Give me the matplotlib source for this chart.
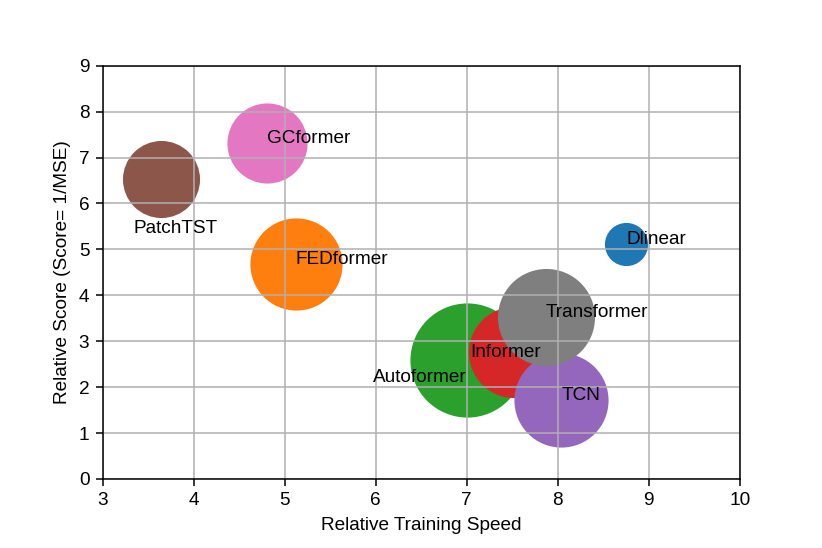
import matplotlib
matplotlib.use("Agg")
from matplotlib import pyplot as plt

plt.rcParams['font.family'] = ['Liberation Sans', 'DejaVu Sans']

models = ["Dlinear", "FEDformer", "Autoformer", "Informer", "TCN", "PatchTST", "GCformer", "Transformer"]
speed = [8.75, 5.12, 7.0, 7.52, 8.04, 3.64, 4.81, 7.87]
score = [5.12, 4.69, 2.6, 2.77, 1.73, 6.54, 7.31, 3.53]
bubble = [470, 2250, 3480, 2200, 2350, 1560, 1690, 2500]
colors = ["C0", "C1", "C2", "C3", "C4", "C5", "C6", "C7"]

# label anchors (x, y, horizontal alignment)
label_x = [8.75, 5.12, 7.0, 7.04, 8.04, 3.34, 4.81, 7.87]
label_y = [5.12, 4.69, 2.11, 2.66, 1.73, 5.36, 7.31, 3.53]
label_ha = ["left", "left", "right", "left", "left", "left", "left", "left"]

fig = plt.figure(figsize=(6, 4), dpi=137)
ax = fig.add_subplot(111)
plt.subplots_adjust(left=0.125, right=0.9, top=0.88, bottom=0.126)

for i in range(len(models)):
    ax.scatter(speed[i], score[i], s=bubble[i], color=colors[i])
    ax.text(label_x[i], label_y[i], models[i], ha=label_ha[i])

ax.set_xlim(3, 10)
ax.set_ylim(0, 9)
ax.set_xticks(range(3, 11))
ax.set_yticks(range(0, 10))
ax.grid(True)
ax.set_xlabel("Relative Training Speed")
ax.set_ylabel("Relative Score (Score= 1/MSE)")

fig.savefig("out.png", dpi=137)
